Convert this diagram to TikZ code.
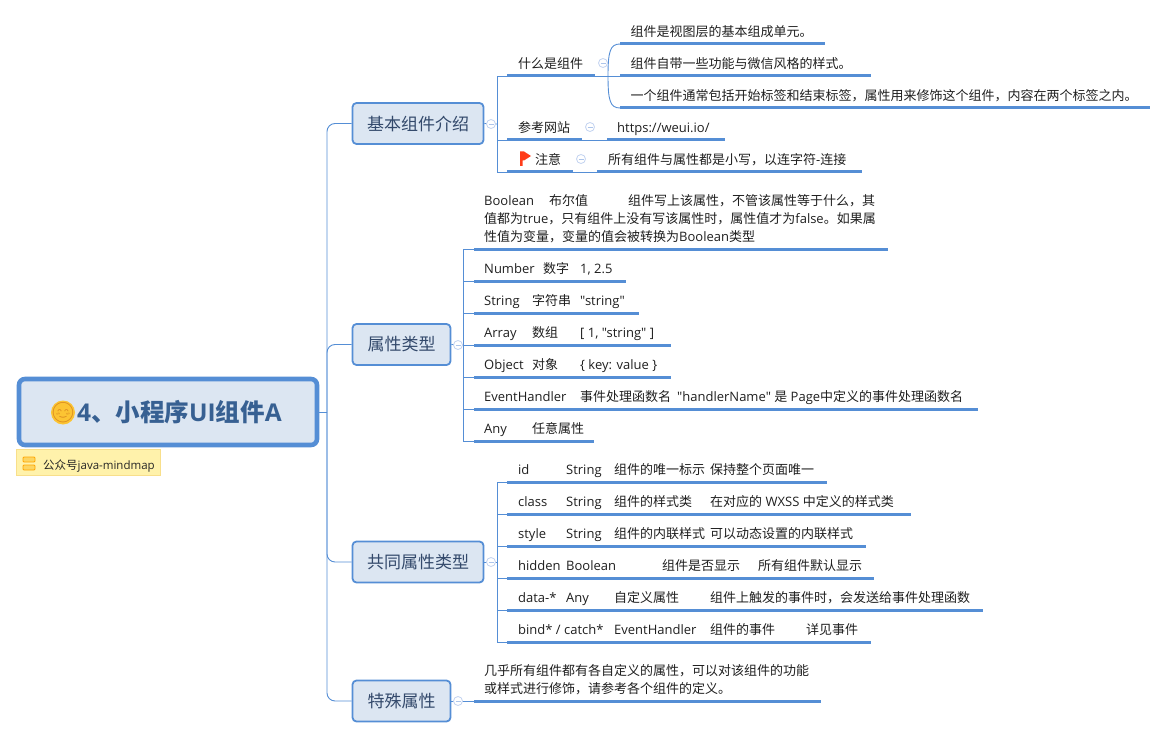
\documentclass[tikz,border=0pt]{standalone}
\usepackage{fontspec}
\newfontfamily\latinf{Open Sans}
\newfontfamily\cjkf{Noto Sans CJK SC}
\newfontfamily\emojif{Noto Emoji}
\XeTeXinterchartokenstate=1
\newcount\cjkcnt
\def\cjkrange#1#2{\cjkcnt=#1\relax\loop\XeTeXcharclass\cjkcnt=1\relax\ifnum\cjkcnt<#2\relax\advance\cjkcnt by 1\relax\repeat}
\cjkrange{"3000}{"30FF}
\cjkrange{"4E00}{"9FFF}
\cjkrange{"FF00}{"FFEF}
\XeTeXinterchartoks 0 1 = {\begingroup\cjkf}
\XeTeXinterchartoks 4095 1 = {\begingroup\cjkf}
\XeTeXinterchartoks 1 0 = {\endgroup}
\XeTeXinterchartoks 1 4095 = {\endgroup}
\usetikzlibrary{calc}
\definecolor{mainblue}{HTML}{558ED5}
\definecolor{boxfill}{HTML}{DCE6F2}
\definecolor{titleblue}{HTML}{376092}
\definecolor{nodetext}{HTML}{33496B}
\definecolor{dotblue}{HTML}{C3D3F0}
\definecolor{notefill}{HTML}{FFF2AB}
\definecolor{noteedge}{HTML}{F8DF8B}
\definecolor{smilefill}{HTML}{FCC433}
\definecolor{smileline}{HTML}{D98A20}
\tikzset{
  conn/.style={draw=mainblue,line width=0.9pt},
  ul/.style={draw=mainblue,line width=3pt},
  rootbox/.style={draw=mainblue,line width=4.6pt,fill=boxfill,rounded corners=6pt,inner sep=0pt,text=titleblue,font=\latinf\fontsize{24.5}{28}\selectfont\bfseries},
  mainbox/.style={draw=mainblue,line width=1.8pt,fill=boxfill,rounded corners=4pt,inner sep=0pt,minimum height=41pt,text=nodetext,font=\latinf\fontsize{17}{20}\selectfont},
  leaftext/.style={inner sep=0pt,text=black!88,font=\latinf\fontsize{13}{18}\selectfont,align=left},
  collapse/.style={circle,draw=dotblue,line width=0.8pt,fill=white,minimum size=9pt,inner sep=0pt,
    path picture={\draw[draw=dotblue!80!mainblue,line width=0.8pt] ($(path picture bounding box.center)+(-2.5pt,0)$) -- ($(path picture bounding box.center)+(2.5pt,0)$);}},
}
\newcommand{\Tb}[2]{\makebox[#1pt][l]{#2}}
% name, underline start, underline end, underline y, text x, text
\newcommand{\leaf}[6]{%
  \coordinate (#1-a) at (#2,#4);
  \coordinate (#1-b) at (#3,#4);
  \node[leaftext,anchor=base west] (#1) at (#5,#4-7.5) {#6};
  \draw[ul] (#1-a) -- (#1-b);
}
\newcommand{\para}[6]{%
  \coordinate (#1-a) at (#2,#4);
  \coordinate (#1-b) at (#3,#4);
  \node[leaftext,anchor=south west] (#1) at (#5,#4-6) {#6};
  \draw[ul] (#1-a) -- (#1-b);
}
\begin{document}
\begin{tikzpicture}[x=1pt,y=-1pt]
\useasboundingbox (0,0) rectangle (1167,738);
% root
\node[rootbox,minimum width=298pt,minimum height=66pt] (root) at (168,412) {\hspace{23pt}4、小程序UI组件A};
\node[circle,fill=smilefill,minimum size=24pt,inner sep=0pt] (smile) at (63,412.5) {};
\node[inner sep=0pt,text=smileline,font=\emojif\fontsize{20}{20}\selectfont] (smileface) at (smile.center) {\char"1F60A};
% note
\node[draw=noteedge,fill=notefill,line width=0.8pt,minimum width=144pt,minimum height=26pt,inner sep=0pt] (note) at (88.5,462.5) {};
\node[inner sep=0pt,anchor=west,text=black!85,font=\latinf\fontsize{11.5}{14}\selectfont] (notetext) at (43,466) {公众号java-mindmap};
\draw[draw=orange!70!yellow,fill=yellow!50!orange!60,line width=0.8pt,rounded corners=1pt] (23,457) rectangle (35,462);
\draw[draw=orange!70!yellow,fill=yellow!50!orange!60,line width=0.8pt,rounded corners=1pt] (23,465) rectangle (35,470);
% main nodes
\node[mainbox,minimum width=131pt] (n1) at (418,123.5) {\raisebox{-0.5pt}{基本组件介绍}};
\node[mainbox,minimum width=98pt] (n2) at (401.5,344.5) {\raisebox{-0.5pt}{属性类型}};
\node[mainbox,minimum width=131pt] (n3) at (418,562) {\raisebox{-0.5pt}{共同属性类型}};
\node[mainbox,minimum width=98pt] (n4) at (401.5,701) {\raisebox{-0.5pt}{特殊属性}};
% trunk
\coordinate (trunk) at (327,412);
\draw[conn] (root.east) -- (trunk);
\draw[conn,rounded corners=8pt] (trunk) |- (n1.west);
\draw[conn,rounded corners=8pt] (trunk) |- (n2.west);
\draw[conn,rounded corners=8pt] (trunk) |- (n3.west);
\draw[conn,rounded corners=8pt] (trunk) |- (n4.west);
% group 1
\leaf{w}{507}{595}{76}{518}{什么是组件}
\leaf{r}{507}{582}{140}{518}{参考网站}
\leaf{z}{507}{573}{172}{535}{注意}
\leaf{w1}{620}{825}{44}{630.5}{组件是视图层的基本组成单元。}
\leaf{w2}{620}{871}{76}{630.5}{组件自带一些功能与微信风格的样式。}
\leaf{w3}{620}{1150}{108}{630.5}{一个组件通常包括开始标签和结束标签，属性用来修饰这个组件，内容在两个标签之内。}
\leaf{r1}{607}{725}{140}{617}{https://weui.io/}
\leaf{z1}{597}{862}{172}{608}{所有组件与属性都是小写，以连字符-连接}
\coordinate (bus1) at (497,124);
\draw[conn] (n1.east) -- (bus1);
\draw[conn] (bus1) |- (w-a);
\draw[conn] (bus1) |- (r-a);
\draw[conn] (bus1) |- (z-a);
\coordinate (fork) at (608,76);
\draw[conn] (w-b) -- (w2-a);
\draw[conn] (fork) .. controls (608,52) and (610,44) .. (w1-a);
\draw[conn] (fork) .. controls (608,100) and (610,108) .. (w3-a);
\draw[conn] (r-b) -- (r1-a);
\draw[conn] (z-b) -- (z1-a);
\fill[red!70!orange!90] (520,151.5) -- (524,151.5) -- (531,156) -- (524,160.5) -- (522.5,160.5) -- (522.5,166) -- (520,166) -- cycle;
% group 2
\para{b0}{474}{888}{249}{484}{\Tb{65}{Boolean}\Tb{79}{布尔值}组件写上该属性，不管该属性等于什么，其\\值都为true，只有组件上没有写该属性时，属性值才为false。如果属\\性值为变量，变量的值会被转换为Boolean类型}
\leaf{b1}{474}{626}{281}{484}{\Tb{59}{Number}\Tb{37}{数字}1, 2.5}
\leaf{b2}{474}{639}{313}{484}{\Tb{48}{String}\Tb{48}{字符串}"string"}
\leaf{b3}{474}{671}{345}{484}{\Tb{48}{Array}\Tb{48}{数组}[ 1, "string" ]}
\leaf{b4}{474}{671}{377}{484}{\Tb{48}{Object}\Tb{48}{对象}\{ key: value \}}
\leaf{b5}{474}{978}{409}{484}{\Tb{96}{EventHandler}\Tb{97}{事件处理函数名}"handlerName" 是 Page中定义的事件处理函数名}
\leaf{b6}{474}{594}{441}{484}{\Tb{48}{Any}任意属性}
\coordinate (bus2) at (463,345);
\draw[conn] (n2.east) -- (bus2);
\foreach \k in {b0,b1,b2,b3,b4,b5,b6} {\draw[conn] (bus2) |- (\k-a);}
% group 3
\leaf{c1}{507}{827}{482}{518}{\Tb{48}{id}\Tb{48}{String}\Tb{96}{组件的唯一标示}保持整个页面唯一}
\leaf{c2}{507}{911}{514}{518}{\Tb{48}{class}\Tb{48}{String}\Tb{96}{组件的样式类}在对应的 WXSS 中定义的样式类}
\leaf{c3}{507}{866}{546}{518}{\Tb{48}{style}\Tb{48}{String}\Tb{96}{组件的内联样式}可以动态设置的内联样式}
\leaf{c4}{507}{874}{578}{518}{\Tb{48}{hidden}\Tb{96}{Boolean}\Tb{96}{组件是否显示}所有组件默认显示}
\leaf{c5}{507}{983}{610}{518}{\Tb{48}{data-*}\Tb{48}{Any}\Tb{96}{自定义属性}组件上触发的事件时，会发送给事件处理函数}
\leaf{c6}{507}{871}{642}{518}{\Tb{96}{bind* / catch*}\Tb{96}{EventHandler}\Tb{96}{组件的事件}详见事件}
\coordinate (bus3) at (497,562);
\draw[conn] (n3.east) -- (bus3);
\foreach \k in {c1,c2,c3,c4,c5,c6} {\draw[conn] (bus3) |- (\k-a);}
% group 4
\para{d0}{474}{821}{701}{484}{几乎所有组件都有各自定义的属性，可以对该组件的功能\\或样式进行修饰，请参考各个组件的定义。}
\draw[conn] (n4.east) -- (d0-a);
% collapse marks
\node[collapse] (m1) at (491,124) {};
\node[collapse] (m2) at (458,345) {};
\node[collapse] (m3) at (491,562) {};
\node[collapse] (m4) at (458,701) {};
\node[collapse] (m5) at (603,63) {};
\node[collapse] (m6) at (590,127) {};
\node[collapse] (m7) at (581,159) {};
\end{tikzpicture}
\end{document}
